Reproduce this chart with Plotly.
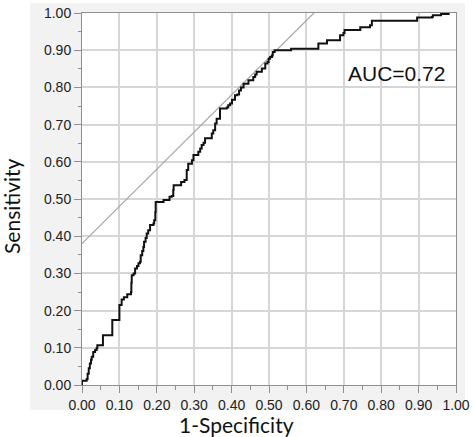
import plotly.graph_objects as go

# ROC curve step corners (1-specificity, sensitivity), drawn with 'hv' steps
fpr = [0.0, 0.0, 0.0126, 0.015, 0.018, 0.021, 0.024, 0.026, 0.030, 0.035, 0.039, 0.041,
       0.056, 0.081, 0.100, 0.106, 0.112, 0.121, 0.131, 0.132, 0.133,
       0.138, 0.142, 0.147, 0.151, 0.155,
       0.157, 0.161, 0.164, 0.166, 0.170, 0.173, 0.177, 0.182,
       0.191, 0.193, 0.196, 0.197,
       0.218, 0.234, 0.240, 0.244, 0.245,
       0.265, 0.274, 0.280, 0.284, 0.294, 0.298, 0.311, 0.316, 0.320, 0.325, 0.329,
       0.347, 0.351, 0.356, 0.360, 0.369, 0.387, 0.391, 0.396, 0.401, 0.409, 0.415, 0.420,
       0.425, 0.432, 0.445, 0.458, 0.463, 0.467, 0.481, 0.490, 0.496, 0.499, 0.503, 0.508,
       0.510, 0.515, 0.559, 0.632, 0.655, 0.690, 0.699, 0.702, 0.744, 0.770, 0.775,
       0.896, 0.936, 0.938, 0.960, 0.983]
tpr = [0.0, 0.0115, 0.016, 0.030, 0.045, 0.058, 0.068, 0.076, 0.089, 0.094, 0.099, 0.107,
       0.134, 0.175, 0.215, 0.230, 0.236, 0.244, 0.250, 0.275, 0.295,
       0.300, 0.313, 0.320, 0.327, 0.331,
       0.349, 0.360, 0.371, 0.385, 0.395, 0.407, 0.416, 0.430,
       0.434, 0.443, 0.465, 0.492,
       0.497, 0.506, 0.508, 0.524, 0.537,
       0.546, 0.551, 0.578, 0.595, 0.604, 0.618, 0.627, 0.636, 0.645, 0.651, 0.663,
       0.676, 0.685, 0.703, 0.716, 0.743, 0.746, 0.752, 0.757, 0.767, 0.779, 0.781, 0.792,
       0.800, 0.810, 0.819, 0.828, 0.835, 0.842, 0.851, 0.864, 0.868, 0.877, 0.882, 0.886,
       0.895, 0.900, 0.904, 0.918, 0.927, 0.940, 0.946, 0.954, 0.962, 0.967, 0.979,
       0.988, 0.989, 0.994, 0.997, 0.997]

# Tangent (cutoff) reference line endpoints
tangent_x = [0.0, 0.62]
tangent_y = [0.38, 1.0]

tick_vals = [i / 10 for i in range(11)]
tick_text = ["%.2f" % v for v in tick_vals]
auc_label = "AUC=0.72"

fig = go.Figure()
fig.add_trace(go.Scatter(x=tangent_x, y=tangent_y, mode="lines",
                         line=dict(color="#a8a8a8", width=1.2), hoverinfo="skip"))
fig.add_trace(go.Scatter(x=fpr, y=tpr, mode="lines", line_shape="hv",
                         line=dict(color="#111111", width=2), hoverinfo="skip"))

axis_common = dict(
    range=[0, 1], tickvals=tick_vals, ticktext=tick_text, automargin=False,
    ticklabeloverflow="allow",
    showgrid=True, gridcolor="#d6d6d6", gridwidth=1.5,
    showline=True, linecolor="#8f8f8f", linewidth=1, mirror=True,
    ticks="outside", ticklen=7, tickcolor="#8f8f8f", tickwidth=1,
    minor=dict(dtick=0.05, ticks="outside", ticklen=3.5, tickcolor="#8f8f8f", showgrid=False),
    tickfont=dict(family="Liberation Sans, Arial", size=14, color="#222222"),
    zeroline=False, fixedrange=True,
)
fig.update_xaxes(**axis_common)
fig.update_yaxes(**axis_common)

fig.add_shape(type="rect", xref="paper", yref="paper", x0=-0.139, x1=1.024, y0=-0.067, y1=1.026,
              fillcolor="#f2f2f2", line=dict(width=0), layer="below")
fig.add_shape(type="rect", xref="paper", yref="paper", x0=0, x1=1, y0=0, y1=1,
              fillcolor="#ffffff", line=dict(width=0), layer="below")

fig.add_annotation(x=0.977, y=0.837, xref="x", yref="y", text=auc_label, showarrow=False,
                   xanchor="right", yanchor="middle",
                   font=dict(family="Liberation Sans, Arial", size=21, color="#111111"))
fig.add_annotation(x=0.412, y=-0.105, xref="paper", yref="paper", text="1-Specificity",
                   showarrow=False, xanchor="center", yanchor="middle",
                   font=dict(family="Lato", size=21, color="#111111"))
fig.add_annotation(x=-0.19, y=0.481, xref="paper", yref="paper", text="Sensitivity",
                   showarrow=False, textangle=-90, xanchor="center", yanchor="middle",
                   font=dict(family="Lato", size=21, color="#111111"))

fig.update_layout(
    width=474, height=437,
    margin=dict(l=82, r=18, t=13, b=52),
    paper_bgcolor="#ffffff", plot_bgcolor="rgba(0,0,0,0)",
    showlegend=False,
)

# remove the default page margin so the figure sits at the window's corner
fig.write_html("out.html", config={"displayModeBar": False},
               post_script="document.body.style.margin='0px';document.body.style.overflow='hidden';")
